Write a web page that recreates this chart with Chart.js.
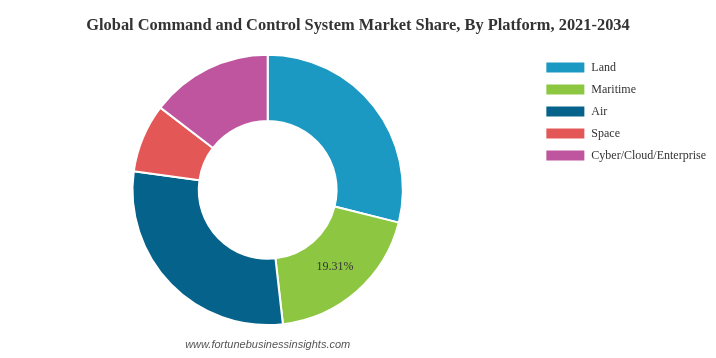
<!DOCTYPE html>
<html>
<head>
<meta charset="utf-8">
<script src="https://cdn.jsdelivr.net/npm/chart.js@4/dist/chart.umd.min.js"></script>
<style>
  html, body { margin: 0; padding: 0; background: #ffffff; }
  #wrap { width: 716px; height: 358px; }
</style>
</head>
<body>
<div id="wrap"><canvas id="c" width="716" height="358"></canvas></div>
<script>
const categories = ["Land", "Maritime", "Air", "Space", "Cyber/Cloud/Enterprise"];
const shares = [28.9, 19.31, 29.0, 8.2, 14.6];
const sliceLabels = ["", "19.31%", "", "", ""];
const colors = ["#1b99c2", "#8dc641", "#05628a", "#e35757", "#be559e"];
const chartTitle = "Global Command and Control System Market Share, By Platform, 2021-2034";
const watermark = "www.fortunebusinessinsights.com";

const sliceLabelPlugin = {
  id: "sliceLabels",
  afterDatasetsDraw(chart) {
    const ctx = chart.ctx;
    const meta = chart.getDatasetMeta(0);
    ctx.save();
    ctx.font = "12px 'Liberation Serif', 'Times New Roman', serif";
    ctx.fillStyle = "#333333";
    ctx.textAlign = "center";
    ctx.textBaseline = "middle";
    meta.data.forEach((arc, i) => {
      if (!sliceLabels[i]) return;
      const p = arc.tooltipPosition();
      ctx.fillText(sliceLabels[i], p.x, p.y);
    });
    ctx.restore();
  }
};

const watermarkPlugin = {
  id: "watermark",
  afterDraw(chart) {
    const ctx = chart.ctx;
    const ca = chart.chartArea;
    ctx.save();
    ctx.font = "italic 11px 'Liberation Sans', Arial, sans-serif";
    ctx.fillStyle = "#555555";
    ctx.textAlign = "center";
    ctx.textBaseline = "middle";
    ctx.fillText(watermark, (ca.left + ca.right) / 2, 345);
    ctx.restore();
  }
};

new Chart(document.getElementById("c"), {
  type: "doughnut",
  data: {
    labels: categories,
    datasets: [{
      data: shares,
      backgroundColor: colors,
      borderColor: "#ffffff",
      borderWidth: 2,
      hoverOffset: 0
    }]
  },
  options: {
    responsive: false,
    animation: false,
    cutout: "51%",
    layout: { padding: { top: 0, bottom: 32, left: 0, right: 0 } },
    plugins: {
      title: {
        display: true,
        text: chartTitle,
        color: "#333333",
        font: { family: "'Liberation Serif', 'Times New Roman', serif", size: 16.4, weight: "bold" },
        padding: { top: 16, bottom: 18 }
      },
      legend: {
        position: "right",
        align: "start",
        title: {
          display: true,
          text: " ",
          font: { size: 12 },
          padding: { top: 0, bottom: 37 }
        },
        labels: {
          boxWidth: 40,
          boxHeight: 12,
          padding: 10,
          color: "#333333",
          font: { family: "'Liberation Serif', 'Times New Roman', serif", size: 12 }
        }
      },
      tooltip: { enabled: false }
    }
  },
  plugins: [sliceLabelPlugin, watermarkPlugin]
});
</script>
</body>
</html>
